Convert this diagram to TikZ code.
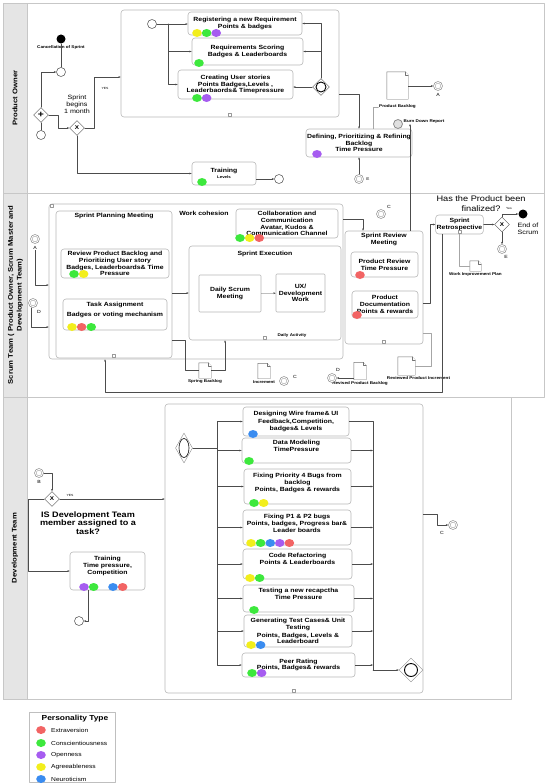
\documentclass[tikz,border=0pt]{standalone}
\usepackage{fontspec}
\setmainfont[FakeStretch=1.15]{Liberation Sans}
\usepackage{xcolor}
\usetikzlibrary{arrows.meta,shapes.geometric,positioning}
\definecolor{pRed}{HTML}{F26464}
\definecolor{pGreen}{HTML}{3DE83D}
\definecolor{pPurple}{HTML}{A65CF0}
\definecolor{pYellow}{HTML}{F2EE1C}
\definecolor{pBlue}{HTML}{3A8CF0}
\newcommand\tsk{\fontsize{6}{6.8}\selectfont\bfseries}
\tikzset{
  every picture/.style={line join=round, line cap=round, >=Stealth},
  pool/.style={draw=black!22, line width=0.9pt},
  band/.style={draw=black!22, fill=black!10, line width=0.9pt},
  lanelbl/.style={rotate=90, font=\fontsize{6.7}{8.6}\selectfont\bfseries, align=center},
  frame/.style={draw=black!28, rounded corners=3pt, line width=0.6pt, inner sep=0pt},
  task/.style={draw=black!28, rounded corners=3pt, fill=white, line width=0.6pt, align=center, font=\tsk, inner sep=1pt},
  ttl/.style={font=\tsk, align=center, inner sep=1pt},
  tiny/.style={font=\fontsize{4}{4.6}\selectfont\bfseries, inner sep=0.5pt, align=center},
  note/.style={font=\fontsize{6.2}{7}\selectfont, align=center, inner sep=0pt},
  flow/.style={draw=black!70, line width=0.35pt, -{Stealth[length=2.4pt,width=1.8pt]}},
  plain/.style={draw=black!70, line width=0.35pt},
  assoc/.style={draw=black!35, line width=0.35pt},
  evt/.style={circle, draw=black!75, minimum size=9pt, inner sep=0pt, line width=0.5pt, fill=white},
  endev/.style={circle, fill=black, minimum size=9pt, inner sep=0pt},
  link/.style={circle, draw=black!50, minimum size=9pt, inner sep=0pt, line width=0.45pt, fill=white,
    path picture={\draw[black!40, line width=0.35pt] (path picture bounding box.center) circle (2.8);}},
  gw/.style={diamond, draw=black!70, minimum size=15pt, inner sep=0pt, fill=white, line width=0.4pt, font=\fontsize{5.5}{6}\selectfont\bfseries},
  docnode/.style={minimum width=12pt, minimum height=15pt, inner sep=0pt},
  docline/.style={draw=black!55, line width=0.4pt, fill=white},
}
% dots for the personality types
\newcommand\pdots[3]{\foreach \c [count=\i from 0] in {#3} {\fill[\c] (#1+\i*9.6,#2) ellipse (4.8 and 4);}}
% data object with folded corner
\newcommand\docshape[1]{%
  \draw[docline] (#1.south west) -- (#1.north west) -- ([xshift=-3pt]#1.north east) -- ([yshift=-3pt]#1.north east) -- (#1.south east) -- cycle;
  \draw[docline] ([xshift=-3pt]#1.north east) |- ([yshift=-3pt]#1.north east);}
% collapsed-subprocess mark
\newcommand\submark[1]{\draw[black!40, line width=0.3pt] ([xshift=-1.5pt,yshift=1pt]#1) rectangle ++(3,-3);}
\begin{document}
\begin{tikzpicture}[x=1pt,y=-1pt]
\useasboundingbox (0,0) rectangle (550,784);

% lanes
\draw[pool] (3,3) rectangle (544,193);
\draw[band] (3,3) rectangle (27,193);
\draw[pool] (3,193) rectangle (544,397);
\draw[band] (3,193) rectangle (27,397);
\draw[pool] (3,397) rectangle (511,699);
\draw[band] (3,397) rectangle (27,699);
\node[lanelbl] (poLane) at (15,98) {Product Owner};
\node[lanelbl] (scLane) at (15.5,295) {Scrum Team ( Product Owner, Scrum Master and\\Development Team)};
\node[lanelbl] (dtLane) at (15,548) {Development Team};

% ---------------- Product Owner
\node[endev] (cancel) at (61,39) {};
\node[tiny, below=1pt of cancel] (cancelLbl) {Cancellation of Sprint};
\node[evt] (cancelEv) at (61,72) {};
\node[gw, font=\fontsize{9}{9}\selectfont\bfseries] (parGw) at (41,115) {+};
\node[evt] (poBegin) at (41,135) {};
\node[gw] (sprintGw) at (77,128) {X};
\node[note] (beginLbl) at (77,104.5) {Sprint\\begins\\1 month};
\node[tiny, font=\fontsize{3}{3}\selectfont] (yesA) at (105,88) {YES};

\node[frame, minimum width=218, minimum height=107] (poSub) at (230,63.5) {};
\submark{poSub.south}
\node[evt] (poStart) at (152,24) {};
\coordinate (poFork) at (168,24);
\node[task, minimum width=114, minimum height=23] (t1) at (245,23.5) {Registering a new Requirement\\Points \& badges};
\node[task, minimum width=111, minimum height=27] (t2) at (247.5,51.5) {Requirements Scoring\\Badges \& Leaderboards};
\node[task, minimum width=115, minimum height=29] (t3) at (235.5,84.5) {Creating User stories\\Points Badges,Levels ,\\Leaderbaords\& Timepressure};
\node[gw, minimum size=17pt] (poGw) at (321,87) {};
\draw[line width=0.9pt] (poGw) circle (5);
\pdots{197}{33}{pYellow,pGreen,pPurple}
\pdots{199}{63}{pGreen}
\pdots{197}{98}{pGreen,pPurple}

\node[task, minimum width=64, minimum height=23] (poTrain) at (224,173.5) {Training\\[-1pt]{\fontsize{3.8}{4}\selectfont Levels}};
\pdots{202}{182}{pGreen}
\node[evt] (trainEnd) at (279,179) {};

\node[task, minimum width=106, minimum height=28] (defining) at (359,143) {Defining, Prioritizing \& Refining\\Backlog\\Time Pressure};
\pdots{317}{154}{pPurple}
\node[link] (eIn) at (359,179) {};
\node[tiny, font=\fontsize{4}{4}\selectfont, right=2pt of eIn] (eInLbl) {E};
\node[docnode, minimum width=21, minimum height=27] (pbDoc) at (397.5,85.5) {};
\docshape{pbDoc}
\node[tiny, below=5pt of pbDoc] (pbLbl) {Product Backlog};
\node[link] (aOut) at (438,86) {};
\node[tiny, font=\fontsize{4.5}{5}\selectfont, below=1.5pt of aOut] (aOutLbl) {A};
\node[circle, draw=black!45, fill=black!12, minimum size=9pt, inner sep=0pt, line width=0.8pt] (burn) at (398,124) {};
\node[tiny, anchor=west] (burnLbl) at (403,122) {Burn Down Report};

\draw[plain] (poBegin) -- (parGw.south);
\draw[flow] (parGw.north) |- (cancelEv.west);
\draw[plain] (cancelEv.north) -- (cancel.south);
\draw[flow] (parGw.east) -- ++(9,0) |- (sprintGw.west);
\draw[flow] (sprintGw.east) -- ++(9,0) |- ([yshift=-13.5pt]poSub.west);
\draw[flow] (sprintGw.south) |- (poTrain.west);
\draw[flow] ([yshift=-5.5pt]poTrain.east) -- (trainEnd);
\draw[flow] (poStart.east) -- (poStart -| t1.west);
\draw[flow] (poFork) |- (t2.west);
\draw[flow] (poFork) |- (t3.west);
\draw[flow] (poGw.north) |- (t1.east);
\draw[flow] (poGw.north |- t2.east) -- (t2.east);
\draw[flow] (poGw.west) -- (poGw.west -| t3.east);
\draw[flow] ([yshift=-30.5pt]poSub.east) -| (defining.north);
\draw[flow] (eIn) -- (defining.south);
\draw[flow] (pbDoc.east |- aOut) -- (aOut);
\draw[assoc] ([xshift=14pt]defining.north) |- (pbLbl.west);

% ---------------- Scrum Team
\node[frame, minimum width=294, minimum height=155] (wcFrame) at (196,281.5) {};
\coordinate (wcMark) at (52,208);
\submark{wcMark}
\node[frame, fill=white, minimum width=116, minimum height=147] (spm) at (114,284.5) {};
\submark{spm.south}
\node[ttl, below=1pt of spm.north] (spmT) {Sprint Planning Meeting};
\node[task, minimum width=108, minimum height=29] (rpb) at (115,263.5) {Review Product Backlog and\\Prioritizing User story\\Badges, Leaderboards\& Time\\Pressure};
\node[task, minimum width=104, minimum height=31] (tas) at (115,314.5) {Task Assignment\\[3pt]Badges or voting mechanism\\[3pt]};
\pdots{74}{274}{pGreen,pYellow}
\pdots{72}{327}{pYellow,pRed,pGreen}
\node[ttl] (wcLbl) at (204,213) {Work cohesion};
\node[task, minimum width=102, minimum height=29] (collab) at (287,223.5) {Collaboration and\\Communication\\Avatar, Kudos \&\\Communication Channel};
\pdots{240}{238}{pGreen,pYellow,pRed}
\node[frame, fill=white, minimum width=152, minimum height=94] (sex) at (265,293) {};
\submark{sex.south}
\node[ttl, below=4pt of sex.north] (sexT) {Sprint Execution};
\node[task, rounded corners=1pt, minimum width=62, minimum height=37] (dsm) at (230,293.5) {Daily Scrum\\Meeting};
\node[task, rounded corners=1pt, minimum width=49, minimum height=38] (ux) at (300.5,293) {UX/\\Development\\Work};
\node[tiny] (daLbl) at (292,335) {Daily Activity};

\node[link] (aIn) at (35,239) {};
\node[tiny, font=\fontsize{4.5}{5}\selectfont, below=2pt of aIn] (aInLbl) {A};
\node[link] (dIn) at (33,303) {};
\node[tiny, font=\fontsize{4.5}{5}\selectfont] (dInLbl) at (39,312) {D};

\node[docnode] (sbDoc) at (205,370.5) {};
\docshape{sbDoc}
\node[tiny, below=1pt of sbDoc] (sbLbl) {Spring Backlog};
\node[docnode] (incDoc) at (264,371) {};
\docshape{incDoc}
\node[tiny, below=1pt of incDoc] (incLbl) {Increment};
\node[link] (cOut) at (284,381) {};
\node[tiny, font=\fontsize{4.5}{5}\selectfont] (cOutLbl) at (295,377) {C};

\node[link] (cIn) at (381,214) {};
\node[tiny, font=\fontsize{4.5}{5}\selectfont] (cInLbl) at (389,207) {C};
\node[frame, fill=white, minimum width=78, minimum height=113] (srm) at (384,287.5) {};
\submark{srm.south}
\node[ttl, below=1pt of srm.north] (srmT) {Sprint Review\\Meeting};
\node[task, minimum width=67, minimum height=25] (prv) at (384.5,264.5) {Product Review\\Time Pressure};
\node[task, minimum width=66, minimum height=27] (pdc) at (385,304.5) {Product\\Documentation\\Points \& rewards};
\pdots{360}{275}{pRed}
\pdots{357}{315}{pRed}
\node[docnode, minimum height=17pt] (rpbDoc) at (360,371) {};
\docshape{rpbDoc}
\node[tiny, below=1pt of rpbDoc] (rpbLbl) {Revised Product Backlog};
\node[link] (dOut) at (332,378) {};
\node[tiny, font=\fontsize{4.5}{5}\selectfont] (dOutLbl) at (338,370) {D};
\node[docnode, minimum width=17pt, minimum height=18pt] (rpiDoc) at (406.5,366) {};
\docshape{rpiDoc}
\node[tiny, below=1pt of rpiDoc, xshift=12pt] (rpiLbl) {Reviewed Product Increment};

\node[note, font=\fontsize{8}{10}\selectfont] (finQ) at (481,204) {Has the Product been\\finalized?};
\node[task, minimum width=45, minimum height=19] (retro) at (459.5,224.5) {Sprint\\Retrospective};
\submark{retro.south}
\node[gw] (finGw) at (502,224.5) {X};
\node[tiny, font=\fontsize{3}{3}\selectfont] (yesB) at (509,208) {Yes};
\node[endev] (scrumEnd) at (523,214) {};
\node[note] (scrumEndLbl) at (528,228.5) {End of\\Scrum};
\node[link] (eOut) at (502,249) {};
\node[tiny, font=\fontsize{4.5}{5}\selectfont] (eOutLbl) at (506,257) {E};
\node[docnode, minimum width=11pt, minimum height=10pt] (wipDoc) at (475.5,266) {};
\docshape{wipDoc}
\node[tiny, below=1pt of wipDoc] (wipLbl) {Work Improvement Plan};
\coordinate (loopB) at (105,392);

\draw[flow] (aInLbl.south) |- ([yshift=-3.5pt]wcFrame.west);
\draw[flow] ([xshift=-2pt]dIn.south) |- ([yshift=-45.5pt]wcFrame.west);
\draw[flow] (sex.west -| spm.east) -- (sex.west);
\draw[flow] (dsm) -- (ux);
\draw[plain] ([yshift=-55.5pt]spm.east) -- ++(13,0) |- (sbDoc.west);
\draw[flow] (sbDoc.east) -| ([xshift=-40pt]sex.south);
\draw[flow] ([yshift=62.5pt]wcFrame.east) -| ([xshift=-21pt]srm.north);
\draw[flow] ([xshift=26pt]srm.north) -- ([xshift=26pt]srm.north |- burn.east);
\draw[flow] ([yshift=-15.5pt]srm.east) -- ++(7,0) |- (retro.west);
\draw[assoc] ([yshift=-45.5pt]srm.east) -- ++(8,0) |- (rpiDoc.east);
\draw[flow] (rpbDoc.west |- dOut) -- (dOut);
\draw[flow] (retro.east) -- (finGw.west);
\draw[flow] (finGw.north) |- (scrumEnd.west);
\draw[flow] (finGw.south) -- (eOut);
\draw[assoc] (retro.south) |- (wipDoc.west);
\draw[flow] ([xshift=-17.5pt]retro.south) |- (loopB) -- (loopB |- wcFrame.south);

% ---------------- Development Team
\node[link] (bIn) at (39,473) {};
\node[tiny, font=\fontsize{4.5}{5}\selectfont, below=2pt of bIn] (bInLbl) {B};
\node[gw] (taskGw) at (52,499) {X};
\node[tiny, font=\fontsize{3}{3}\selectfont] (yesC) at (70,495) {YES};
\node[font=\fontsize{7.9}{8.8}\selectfont\bfseries, align=center] (taskQ) at (88,523) {IS Development Team\\member assigned to a\\task?};
\node[task, minimum width=75, minimum height=38] (devTrain) at (107.5,571) {Training\\Time pressure,\\Competition\\[4pt]};
\pdots{84}{587}{pPurple,pGreen}
\pdots{113}{587}{pBlue,pRed}
\node[evt] (devEnd) at (79,621) {};

\node[frame, minimum width=258, minimum height=289] (devSub) at (294,548.5) {};
\submark{devSub.south}
\node[gw, minimum width=17pt, minimum height=30pt, draw=black!45] (devGw) at (184,448) {};
\draw[line width=0.6pt] (devGw) ellipse (5 and 9.5);
\coordinate (leftTr) at (217,448);
\coordinate (rightTr) at (373,670);
\node[task, minimum width=106, minimum height=29] (d1) at (296,421.5) {Designing Wire frame\& UI\\[1pt]Feedback,Competition,\\badges\& Levels};
\node[task, minimum width=109, minimum height=25] (d2) at (296.5,450.5) {Data Modeling\\TimePressure\\[2pt]};
\node[task, minimum width=107, minimum height=35] (d3) at (297.5,486.5) {Fixing Priority 4 Bugs from\\backlog\\Points, Badges \& rewards\\[2pt]};
\node[task, minimum width=108, minimum height=35] (d4) at (297,527.5) {Fixing P1 \& P2 bugs\\Points, badges, Progress bar\&\\Leader boards\\[2pt]};
\node[task, minimum width=109, minimum height=30] (d5) at (297.5,564) {Code Refactoring\\Points \& Leaderboards\\[3pt]};
\node[task, minimum width=111, minimum height=27] (d6) at (298.5,598.5) {Testing a new recapctha\\Time Pressure\\[3pt]};
\node[task, minimum width=108, minimum height=32] (d7) at (298,631) {Generating Test Cases\& Unit\\Testing\\[1pt]Points, Badges, Levels \&\\Leaderboard};
\node[task, minimum width=113, minimum height=24] (d8) at (298.5,665) {Peer Rating\\Points, Badges\& rewards};
\pdots{253}{434}{pBlue}
\pdots{249}{461}{pGreen}
\pdots{254}{503}{pGreen,pYellow}
\pdots{251}{543}{pYellow,pGreen,pBlue,pPurple,pRed}
\pdots{250}{578}{pYellow,pGreen}
\pdots{254}{610}{pGreen}
\pdots{251}{645}{pYellow,pBlue}
\pdots{252}{673}{pGreen,pPurple}
\node[gw, minimum size=24pt, draw=black!45] (devJoin) at (411,670) {};
\draw[line width=0.9pt] (devJoin) circle (6.5);
\node[link] (cDev) at (453,525) {};
\node[tiny, font=\fontsize{4.5}{5}\selectfont] (cDevLbl) at (442,533) {C};

\draw[flow] (bIn.east) -| (taskGw.north);
\draw[flow] (taskGw.east) -- (taskGw.east -| devSub.west);
\draw[flow] (taskGw.west) -- ++(-16,0) |- (devTrain.west);
\draw[flow] ([xshift=-19.5pt]devTrain.south) |- (devEnd.east);
\draw[plain] (devGw.east) -- (leftTr);
\foreach \t in {d1,d2,d3,d4,d5,d6,d7,d8} \draw[flow] (leftTr) |- (\t.west);
\draw[plain] (d1.east) -| (rightTr);
\foreach \t in {d2,d3,d4,d5,d6,d7,d8} \draw[flow] (\t.east) -- (\t.east -| rightTr);
\draw[flow] (rightTr) -- (devJoin.west);
\draw[flow] ([yshift=34.5pt]devSub.east) -- ++(14,0) |- (cDev.west);

% ---------------- legend
\node[draw=black!25, line width=0.7pt, minimum width=86, minimum height=70, inner sep=0pt] (legend) at (72,747) {};
\node[font=\fontsize{7.3}{8}\selectfont\bfseries] (legT) at (75,719) {Personality Type};
\foreach \c/\t/\y [count=\k] in {pRed/Extraversion/730, pGreen/Conscientiousness/743, pPurple/Openness/755, pYellow/Agreeableness/767, pBlue/Neuroticism/779} {
  \fill[\c] (41,\y) ellipse (4.8 and 4);
  \node[font=\fontsize{5.8}{7}\selectfont, anchor=west, inner sep=0pt] (leg\k) at (51,\y) {\t};
}
\end{tikzpicture}
\end{document}
